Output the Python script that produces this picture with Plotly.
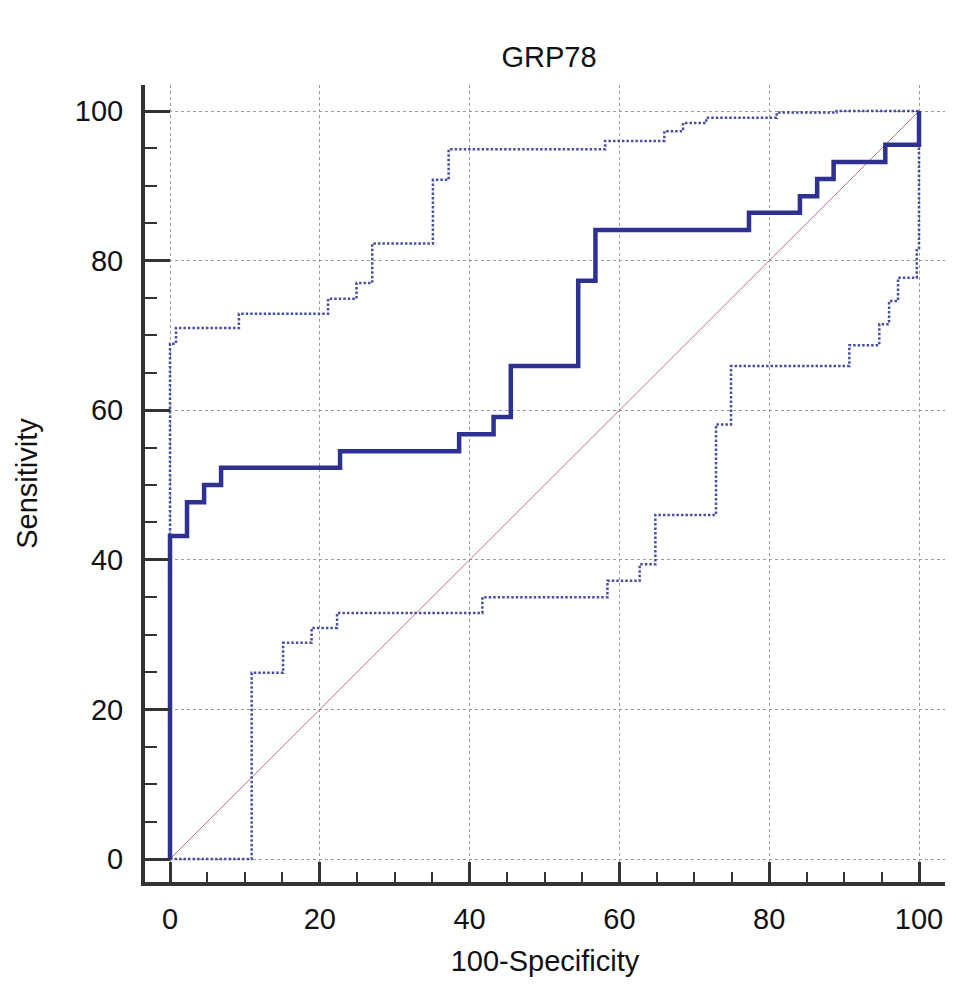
import plotly.graph_objects as go

# ROC curve vertices (100-Specificity, Sensitivity), step shape
roc_x = [0, 0, 2.27, 4.55, 6.82, 22.7, 38.6, 43.2, 45.5, 54.5, 56.8, 77.3, 84.1, 86.4, 88.6, 95.5, 100]
roc_y = [0, 43.2, 47.7, 50.0, 52.3, 54.5, 56.8, 59.1, 65.9, 77.3, 84.1, 86.4, 88.6, 90.9, 93.2, 95.5, 100]

# upper 95% confidence bound
upper_x = [0, 0, 0.8, 9.2, 21.1, 24.9, 27.0, 35.1, 37.2, 58.1, 66.0, 68.5, 71.6, 81.0, 89.0, 100]
upper_y = [0, 68.9, 71.0, 72.9, 74.9, 77.0, 82.3, 90.8, 94.9, 96.0, 97.3, 98.4, 99.1, 99.8, 100, 100]

# lower 95% confidence bound
lower_x = [0, 10.9, 15.1, 18.9, 22.3, 41.7, 58.4, 62.7, 64.8, 72.9, 74.9, 90.7, 94.7, 96.0, 97.2, 99.7, 100]
lower_y = [0, 24.9, 28.9, 30.9, 32.9, 35.0, 37.2, 39.4, 46.0, 58.1, 65.9, 68.7, 71.5, 74.6, 77.7, 81.4, 100]

# reference diagonal
diag_x = [0, 100]
diag_y = [0, 100]

tick_vals = [0, 20, 40, 60, 80, 100]
tick_text = ["0", "20", "40", "60", "80", "100"]

blue = "#2E3192"
font = "Liberation Sans, Arial, sans-serif"

fig = go.Figure()
fig.add_trace(go.Scatter(x=diag_x, y=diag_y, mode="lines",
                         line=dict(color="#B07A7A", width=1)))
fig.add_trace(go.Scatter(x=upper_x, y=upper_y, mode="lines", line_shape="hv",
                         line=dict(color="#4A4E9E", width=2.5, dash="2.5px,2px")))
fig.add_trace(go.Scatter(x=lower_x, y=lower_y, mode="lines", line_shape="hv",
                         line=dict(color="#4A4E9E", width=2.5, dash="2.5px,2px")))
fig.add_trace(go.Scatter(x=roc_x, y=roc_y, mode="lines", line_shape="hv",
                         line=dict(color=blue, width=4.5)))

axis_common = dict(
    tickvals=tick_vals, ticktext=tick_text,
    showline=True, linecolor="#333333", linewidth=4,
    ticks="inside", tickcolor="#333333", tickwidth=3,
    showgrid=True, gridcolor="#9a9a9a", gridwidth=1, griddash="dot",
    zeroline=False,
    tickfont=dict(family=font, size=29, color="#111111"),
    title_font=dict(family=font, size=29, color="#111111"),
)

fig.update_xaxes(axis_common, range=[-3.34, 103.47], ticklen=20,
                 minor=dict(dtick=5, tick0=0, ticks="inside", ticklen=10,
                            tickwidth=2, tickcolor="#333333", showgrid=False),
                 title_text="100-Specificity", title_standoff=18,
                 ticklabelstandoff=8)
fig.update_yaxes(axis_common, range=[-3.07, 103.48], ticklen=25,
                 minor=dict(dtick=5, tick0=0, ticks="inside", ticklen=12,
                            tickwidth=2, tickcolor="#333333", showgrid=False),
                 title_text="Sensitivity", title_standoff=30,
                 ticklabelstandoff=12)

fig.update_layout(
    width=969, height=1003,
    margin=dict(l=137, r=32, t=77, b=129),
    paper_bgcolor="white", plot_bgcolor="white",
    showlegend=False,
    title=dict(text="GRP78", x=541 / 969, xanchor="center",
               y=1 - 49 / 1003, yanchor="middle", yref="container",
               font=dict(family=font, size=29, color="#111111")),
)

fig.write_html("out.html")
